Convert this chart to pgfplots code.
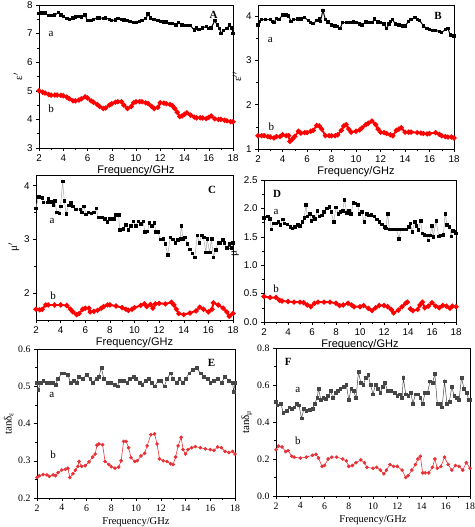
\documentclass[border=0pt]{standalone}
\usepackage{fontspec}
\setmainfont{Liberation Serif}
\newfontfamily\arial{Liberation Sans}
\usepackage{pgfplots}
\pgfplotsset{compat=1.18}
\definecolor{dgray}{RGB}{70,70,70}
\definecolor{lgray}{RGB}{170,170,170}
\definecolor{ered}{RGB}{230,50,55}
\pgfplotsset{
  base/.style={scale only axis, anchor=south west, xmin=2, xmax=18,
    xtick={2,4,...,18}, minor x tick num=1, minor y tick num=1,
    tick align=outside, tick pos=left, major tick length=3pt, minor tick length=1.6pt,
    every tick/.style={black, line width=0.5pt},
    axis line style={line width=0.6pt},
    xlabel={Frequency/GHz},
    ylabel style={font=\fontsize{11}{12}\selectfont, yshift=-2pt},
    /pgf/number format/assume math mode=true},
  sans/.style={base, tick label style={font=\arial\fontsize{9.8}{10}\selectfont},
    xlabel style={font=\arial\fontsize{11}{12}\selectfont, yshift=3pt}},
  serif/.style={base, tick label style={font=\fontsize{9.8}{10}\selectfont},
    xlabel style={font=\fontsize{10.5}{12}\selectfont}},
  blk/.style={black, mark=square*, mark size=1.2pt, line width=1pt},
  rd/.style={red, mark=*, mark size=1.5pt, line width=1.9pt},
  blkg/.style={lgray, line width=0.5pt, mark=square*, mark size=1.3pt, mark options={black}},
  gsq/.style={dgray, line width=0.5pt, mark=square*, mark size=1.4pt},
  rci/.style={ered, line width=0.6pt, mark=*, mark size=1.5pt},
}
\newcommand{\lab}[1]{\fontsize{11}{12}\selectfont #1}
\newcommand{\pl}[1]{\fontsize{11}{12}\selectfont\bfseries #1}
\begin{document}
\begin{tikzpicture}
\useasboundingbox (0,0) rectangle (474pt,527pt);
% A
\begin{axis}[sans, at={(39pt,379pt)}, width=194pt, height=143pt,
  ymin=3, ymax=8, ytick={3,4,...,8}, ylabel={ε$'$}]
\addplot[blk] coordinates {(2.0,7.70)(2.2,7.72)(2.5,7.72)(2.8,7.63)(3.0,7.63)(3.3,7.65)(3.6,7.73)(3.8,7.65)(4.0,7.6)(4.3,7.52)(4.5,7.5)(4.8,7.55)(5.0,7.58)(5.3,7.6)(5.5,7.58)(5.8,7.65)(6.0,7.45)(6.3,7.45)(6.5,7.5)(6.8,7.55)(7.0,7.55)(7.3,7.53)(7.5,7.55)(7.8,7.5)(8.0,7.45)(8.3,7.48)(8.5,7.52)(8.8,7.5)(9.0,7.48)(9.3,7.45)(9.5,7.42)(9.8,7.38)(10.0,7.38)(10.3,7.42)(10.5,7.45)(10.8,7.52)(11.0,7.68)(11.2,7.55)(11.5,7.5)(11.8,7.45)(12.0,7.42)(12.3,7.4)(12.5,7.4)(12.8,7.35)(13.0,7.35)(13.3,7.3)(13.5,7.38)(13.8,7.3)(14.0,7.28)(14.3,7.28)(14.5,7.28)(14.8,7.12)(15.0,7.2)(15.2,7.15)(15.5,7.2)(15.8,7.25)(16.0,7.18)(16.2,7.2)(16.5,7.45)(16.7,7.3)(16.9,7.18)(17.0,7.0)(17.2,7.1)(17.5,7.18)(17.7,7.3)(17.9,7.2)(18.0,7.0)};
\addplot[rd] coordinates {(2.0,5.0)(2.3,4.95)(2.5,4.92)(2.8,4.87)(3.0,4.85)(3.3,4.85)(3.5,4.85)(3.8,4.84)(4.0,4.83)(4.3,4.78)(4.5,4.72)(4.8,4.65)(5.0,4.65)(5.3,4.68)(5.5,4.72)(5.8,4.79)(6.0,4.75)(6.3,4.65)(6.5,4.6)(6.8,4.52)(7.0,4.45)(7.3,4.38)(7.5,4.4)(7.8,4.5)(8.0,4.55)(8.3,4.6)(8.5,4.62)(8.8,4.62)(9.0,4.5)(9.3,4.38)(9.6,4.45)(9.8,4.58)(10.0,4.62)(10.3,4.62)(10.5,4.62)(10.8,4.58)(11.0,4.55)(11.3,4.45)(11.5,4.38)(11.8,4.42)(12.0,4.58)(12.3,4.57)(12.5,4.55)(12.8,4.52)(13.0,4.48)(13.2,4.38)(13.4,4.25)(13.6,4.1)(13.8,4.12)(14.0,4.18)(14.2,4.23)(14.5,4.15)(14.8,4.08)(15.0,4.05)(15.3,4.06)(15.5,4.05)(15.8,4.03)(16.0,4.07)(16.2,4.12)(16.5,4.02)(16.8,4.0)(17.0,4.0)(17.3,3.97)(17.5,3.95)(17.8,3.92)(18.0,3.92)};
\node at (axis cs:3.0,7.0) {\lab{a}};
\node at (axis cs:3.0,4.38) {\lab{b}};
\node at (axis cs:16.4,7.65) {\pl{A}};
\end{axis}
% B
\begin{axis}[sans, at={(258pt,378pt)}, width=196pt, height=144pt,
  ymin=1, ymax=4.25, ytick={1,2,3,4}, ylabel={ε$''$}]
\addplot[blk] coordinates {(2.0,3.8)(2.1,3.88)(2.3,3.92)(2.6,3.92)(3.0,3.92)(3.2,3.88)(3.3,3.85)(3.5,3.95)(3.7,3.92)(4.0,4.02)(4.3,4.02)(4.5,4.0)(4.7,3.88)(4.9,3.92)(5.2,3.93)(5.5,3.93)(5.8,3.97)(6.1,3.9)(6.3,3.85)(6.5,3.83)(6.8,3.9)(7.0,3.95)(7.1,3.88)(7.3,4.13)(7.5,3.92)(7.7,3.87)(8.0,3.8)(8.3,3.78)(8.5,3.77)(8.7,3.72)(8.9,3.85)(9.2,3.85)(9.5,3.85)(9.8,3.87)(10.0,3.85)(10.3,3.82)(10.5,3.8)(10.8,3.87)(11.1,3.85)(11.3,3.85)(11.5,3.93)(11.8,3.87)(12.0,3.85)(12.3,3.82)(12.5,3.72)(12.7,3.82)(12.8,3.88)(13.0,3.92)(13.2,3.82)(13.5,3.8)(13.8,3.78)(14.0,3.78)(14.3,3.88)(14.5,3.92)(14.8,3.97)(15.0,3.92)(15.2,3.9)(15.5,3.78)(15.8,3.72)(16.0,3.7)(16.3,3.68)(16.5,3.68)(16.8,3.65)(17.0,3.63)(17.3,3.7)(17.5,3.72)(17.7,3.57)(18.0,3.55)};
\addplot[rd] coordinates {(2.0,1.3)(2.3,1.3)(2.5,1.3)(2.8,1.28)(3.0,1.27)(3.3,1.25)(3.5,1.28)(3.8,1.28)(4.0,1.32)(4.3,1.3)(4.5,1.3)(4.6,1.17)(4.8,1.22)(5.0,1.28)(5.3,1.4)(5.5,1.36)(5.8,1.37)(6.0,1.37)(6.3,1.4)(6.5,1.42)(6.8,1.53)(7.0,1.52)(7.2,1.45)(7.5,1.3)(7.8,1.3)(8.0,1.3)(8.3,1.3)(8.5,1.32)(8.8,1.42)(9.0,1.52)(9.2,1.55)(9.4,1.45)(9.6,1.38)(10.0,1.4)(10.3,1.43)(10.5,1.48)(10.8,1.55)(11.0,1.58)(11.3,1.63)(11.6,1.55)(11.8,1.45)(12.0,1.38)(12.3,1.37)(12.5,1.35)(12.8,1.32)(13.0,1.3)(13.3,1.42)(13.5,1.45)(13.7,1.48)(14.0,1.38)(14.3,1.38)(14.5,1.38)(15.0,1.37)(15.3,1.36)(15.5,1.35)(15.8,1.34)(16.0,1.35)(16.5,1.37)(16.8,1.33)(17.0,1.3)(17.3,1.28)(17.5,1.27)(17.8,1.27)(18.0,1.25)};
\node at (axis cs:3.0,3.47) {\lab{a}};
\node at (axis cs:3.1,1.5) {\lab{b}};
\node at (axis cs:16.7,4.0) {\pl{B}};
\end{axis}
% C
\begin{axis}[sans, at={(36pt,207pt)}, width=197pt, height=145pt,
  ymin=1.5, ymax=4.2, ytick={2,3,4}, ylabel={μ$'$}]
\addplot[blkg] coordinates {(2.0,3.58)(2.2,3.8)(2.5,3.78)(2.6,3.69)(2.9,3.69)(3.0,3.76)(3.2,3.7)(3.4,3.65)(3.5,3.72)(3.7,3.51)(3.9,3.49)(4.0,3.62)(4.16,4.08)(4.3,3.72)(4.45,3.48)(4.65,3.64)(4.8,3.68)(5.0,3.62)(5.25,3.56)(5.6,3.56)(5.7,3.51)(5.9,3.62)(6.05,3.47)(6.25,3.51)(6.5,3.49)(6.7,3.51)(6.9,3.58)(7.05,3.41)(7.35,3.41)(7.6,3.39)(7.8,3.33)(8.0,3.38)(8.3,3.38)(8.5,3.46)(8.7,3.46)(8.8,3.18)(9.1,3.2)(9.3,3.27)(9.5,3.18)(9.7,3.26)(9.9,3.34)(10.1,3.26)(10.3,3.34)(10.5,3.29)(10.7,3.34)(10.85,3.14)(11.05,3.15)(11.2,3.31)(11.4,3.25)(11.6,3.31)(11.75,3.14)(11.9,3.14)(12.1,3.0)(12.35,3.01)(12.5,2.92)(12.7,2.71)(12.9,3.04)(13.1,3.0)(13.3,2.94)(13.5,2.99)(13.7,3.01)(13.8,3.25)(13.95,3.01)(14.1,3.04)(14.3,2.92)(14.5,2.82)(14.7,2.74)(14.9,2.67)(15.1,3.08)(15.25,2.94)(15.45,3.08)(15.6,3.04)(15.8,2.76)(15.9,3.01)(16.1,2.76)(16.25,3.01)(16.4,2.67)(16.6,2.81)(16.8,2.94)(16.95,2.94)(17.15,2.99)(17.3,2.94)(17.5,2.84)(17.7,2.92)(17.9,2.84)(18.0,2.94)};
\addplot[rd] coordinates {(2.0,1.7)(2.3,1.69)(2.5,1.7)(2.8,1.78)(3.0,1.78)(3.5,1.78)(4.0,1.78)(4.5,1.77)(4.8,1.7)(5.0,1.65)(5.3,1.6)(5.5,1.62)(5.8,1.7)(6.0,1.72)(6.3,1.72)};
\addplot[rd] coordinates {(6.4,1.65)(6.7,1.66)(7.0,1.68)(7.3,1.72)(7.5,1.75)(7.8,1.78)(8.0,1.78)(8.5,1.76)(9.0,1.73)(9.3,1.7)(9.5,1.68)(9.8,1.7)(10.0,1.73)(10.5,1.77)(10.8,1.8)(11.0,1.75)(11.3,1.79)(11.5,1.72)(11.7,1.8)(12.0,1.81)(12.5,1.8)(13.0,1.83)(13.2,1.78)(13.4,1.7)(13.6,1.62)(14.0,1.6)(14.5,1.63)(15.0,1.67)(15.3,1.74)(15.6,1.7)(16.0,1.65)(16.3,1.7)(16.4,1.82)(16.8,1.78)(17.2,1.72)(17.5,1.65)(17.7,1.57)(18.0,1.62)};
\node at (axis cs:3.3,3.34) {\lab{a}};
\node at (axis cs:3.4,1.95) {\lab{b}};
\node at (axis cs:16.3,3.92) {\pl{C}};
\end{axis}
% D
\begin{axis}[sans, at={(264pt,205pt)}, width=192pt, height=142pt,
  ymin=0, ymax=2.5, ytick={0,0.5,...,2.5}, ylabel={μ$''$},
  yticklabel style={/pgf/number format/.cd, fixed, fixed zerofill, precision=1}]
\addplot[blkg] coordinates {(2.0,1.84)(2.3,1.86)(2.5,1.82)(2.6,1.63)(2.8,1.74)(3.0,1.74)(3.2,1.76)(3.35,1.71)(3.55,1.81)(3.7,1.74)(3.95,1.72)(4.2,1.68)(4.35,1.65)(4.55,1.68)(4.8,1.71)(5.0,1.69)(5.2,1.76)(5.35,1.84)(5.5,2.06)(5.6,1.86)(5.8,1.91)(5.95,1.78)(6.1,1.86)(6.25,1.82)(6.45,1.96)(6.6,1.86)(6.8,1.88)(7.0,1.94)(7.25,2.0)(7.45,2.03)(7.6,1.94)(7.8,1.76)(8.0,2.02)(8.2,1.91)(8.35,1.94)(8.55,1.96)(8.7,2.15)(8.9,1.92)(9.05,1.96)(9.25,1.91)(9.45,2.1)(9.6,2.09)(9.8,2.06)(9.95,1.91)(10.15,1.94)(10.35,1.76)(10.55,1.91)(10.75,1.88)(10.95,1.89)(11.2,1.86)(11.4,1.81)(11.6,1.76)(11.8,1.72)(12.05,1.68)(12.15,1.65)(12.3,1.91)(12.45,1.63)(12.65,1.63)(12.85,1.63)(13.05,1.63)(13.25,1.47)(13.4,1.63)(13.6,1.63)(13.85,1.63)(14.05,1.68)(14.2,1.74)(14.35,1.59)(14.55,1.76)(14.7,1.69)(14.85,1.62)(15.05,1.78)(15.2,1.56)(15.35,1.54)(15.55,1.53)(15.7,1.44)(15.85,1.53)(16.0,1.69)(16.1,1.5)(16.35,1.78)(16.55,1.51)(16.75,1.53)(16.95,1.54)(17.1,1.91)(17.25,1.71)(17.45,1.68)(17.6,1.51)(17.75,1.61)(17.95,1.59)(18.0,1.56)};
\addplot[rd] coordinates {(2.0,0.45)(2.5,0.43)(3.0,0.43)(3.3,0.38)(3.5,0.37)(4.0,0.36)(4.5,0.35)(5.0,0.35)(5.3,0.34)(5.6,0.3)(5.9,0.27)(6.2,0.33)(6.5,0.35)(7.0,0.35)(7.5,0.35)(8.0,0.33)(8.3,0.29)(8.6,0.3)(9.0,0.33)(9.3,0.3)(9.5,0.27)(10.0,0.27)(10.3,0.29)(10.7,0.24)(11.0,0.2)(11.3,0.25)(11.6,0.29)(12.0,0.29)(12.3,0.27)(12.6,0.22)(12.8,0.16)(13.2,0.21)(13.5,0.27)(13.8,0.33)(13.95,0.35)};
\addplot[rd] coordinates {(14.2,0.23)(14.4,0.2)(14.8,0.22)(15.0,0.3)(15.2,0.35)(15.4,0.25)(15.7,0.28)(16.0,0.34)(16.3,0.28)(16.6,0.25)(16.9,0.29)(17.2,0.28)(17.5,0.24)(17.7,0.28)(18.0,0.27)};
\node at (axis cs:3.1,2.25) {\pl{D}};
\node at (axis cs:3.0,1.94) {\lab{a}};
\node at (axis cs:3.0,0.58) {\lab{b}};
\end{axis}
% E
\begin{axis}[serif, at={(37pt,29pt)}, width=198pt, height=149pt,
  ymin=0.2, ymax=0.6, ytick={0.2,0.3,...,0.6}, ylabel={tanδ\textsubscript{ε}},
  yticklabel style={/pgf/number format/.cd, fixed, fixed zerofill, precision=1}]
\addplot[gsq] coordinates {(2.0,0.51)(2.1,0.49)(2.3,0.51)(2.5,0.515)(2.8,0.51)(3.0,0.51)(3.3,0.51)(3.5,0.505)(3.7,0.52)(4.0,0.535)(4.2,0.535)(4.5,0.53)(4.7,0.51)(5.0,0.515)(5.2,0.51)(5.4,0.525)(5.7,0.52)(6.0,0.53)(6.3,0.52)(6.5,0.51)(6.8,0.52)(7.0,0.525)(7.2,0.55)(7.4,0.52)(7.7,0.51)(8.0,0.51)(8.3,0.505)(8.5,0.5)(8.7,0.515)(9.0,0.515)(9.3,0.51)(9.5,0.52)(9.8,0.525)(10.0,0.52)(10.3,0.51)(10.5,0.505)(10.8,0.515)(11.0,0.52)(11.3,0.51)(11.5,0.5)(11.8,0.515)(12.0,0.515)(12.3,0.5)(12.5,0.52)(12.8,0.535)(13.0,0.52)(13.3,0.51)(13.5,0.52)(13.8,0.51)(14.0,0.52)(14.3,0.535)(14.6,0.545)(14.9,0.55)(15.2,0.535)(15.5,0.525)(15.8,0.52)(16.0,0.51)(16.3,0.515)(16.6,0.52)(16.9,0.51)(17.2,0.525)(17.5,0.515)(17.8,0.51)(17.9,0.485)(18.0,0.51)};
\addplot[rci] coordinates {(2.0,0.255)(2.2,0.26)(2.5,0.263)(2.8,0.262)(3.0,0.258)(3.3,0.262)(3.5,0.26)(3.7,0.268)(4.0,0.275)(4.3,0.277)(4.5,0.28)(4.65,0.255)(4.9,0.265)(5.1,0.275)(5.3,0.285)(5.4,0.298)(5.6,0.285)(5.9,0.287)(6.2,0.297)(6.5,0.31)(6.7,0.318)(6.85,0.342)(7.0,0.345)(7.3,0.343)(7.5,0.298)(7.8,0.29)(8.0,0.284)(8.3,0.28)(8.6,0.283)(8.8,0.3)(9.0,0.352)(9.2,0.352)(9.4,0.335)(9.6,0.308)(9.9,0.298)(10.1,0.3)(10.4,0.313)(10.7,0.32)(10.9,0.34)(11.2,0.37)(11.5,0.372)(11.7,0.345)(11.9,0.305)(12.2,0.3)(12.5,0.298)(12.8,0.292)(13.0,0.29)(13.2,0.31)(13.4,0.34)(13.65,0.363)(13.8,0.33)(14.0,0.318)(14.2,0.33)(14.5,0.335)(14.8,0.338)(15.2,0.335)(15.6,0.332)(16.0,0.33)(16.3,0.328)(16.6,0.337)(16.9,0.335)(17.2,0.325)(17.5,0.322)(17.8,0.325)(18.0,0.318)};
\node at (axis cs:16.1,0.563) {\pl{E}};
\node at (axis cs:3.2,0.476) {\lab{a}};
\node at (axis cs:3.3,0.317) {\lab{b}};
\end{axis}
% F
\begin{axis}[serif, at={(276pt,31pt)}, width=194pt, height=148pt,
  ymin=0, ymax=0.8, ytick={0,0.2,...,0.8}, ylabel={tanδ\textsubscript{μ}},
  yticklabel style={/pgf/number format/.cd, fixed, fixed zerofill, precision=1}]
\addplot[gsq] coordinates {(2.0,0.51)(2.1,0.49)(2.4,0.5)(2.6,0.45)(2.9,0.46)(3.1,0.48)(3.3,0.47)(3.5,0.48)(3.7,0.5)(3.9,0.49)(4.1,0.42)(4.3,0.47)(4.5,0.46)(4.8,0.465)(5.0,0.47)(5.2,0.5)(5.4,0.53)(5.5,0.58)(5.7,0.52)(5.9,0.53)(6.1,0.525)(6.3,0.54)(6.5,0.57)(6.7,0.53)(6.9,0.56)(7.1,0.57)(7.3,0.58)(7.6,0.59)(7.8,0.6)(8.0,0.52)(8.2,0.58)(8.4,0.57)(8.6,0.53)(8.8,0.67)(9.0,0.61)(9.2,0.6)(9.4,0.64)(9.6,0.655)(9.8,0.6)(10.0,0.55)(10.2,0.6)(10.4,0.58)(10.6,0.56)(10.8,0.59)(11.0,0.61)(11.2,0.57)(11.5,0.57)(11.8,0.56)(12.0,0.54)(12.2,0.55)(12.4,0.53)(12.5,0.64)(12.7,0.55)(12.9,0.54)(13.1,0.56)(13.3,0.5)(13.5,0.55)(13.7,0.55)(13.9,0.53)(14.1,0.5)(14.3,0.56)(14.5,0.56)(14.7,0.62)(14.9,0.61)(15.1,0.66)(15.3,0.5)(15.5,0.5)(15.7,0.48)(15.9,0.62)(16.1,0.5)(16.3,0.51)(16.5,0.59)(16.7,0.54)(16.9,0.53)(17.1,0.52)(17.3,0.64)(17.5,0.58)(17.7,0.56)(17.9,0.52)(18.0,0.52)};
\addplot[rci] coordinates {(2.0,0.25)(2.2,0.27)(2.5,0.265)(2.8,0.24)(3.0,0.245)(3.3,0.215)(3.5,0.21)(4.0,0.205)(4.5,0.21)(5.0,0.22)(5.3,0.225)(5.5,0.205)(5.8,0.16)(6.0,0.165)(6.3,0.2)(6.6,0.21)(7.0,0.21)(7.5,0.2)(7.8,0.19)(8.0,0.16)(8.3,0.165)(8.6,0.18)(9.0,0.195)(9.3,0.18)(9.5,0.155)(10.0,0.15)(10.3,0.155)(10.6,0.14)(10.9,0.12)(11.1,0.14)(11.4,0.17)(11.7,0.16)(12.0,0.16)(12.4,0.14)(12.7,0.1)(12.9,0.11)(13.2,0.14)(13.5,0.17)(13.7,0.2)(13.9,0.215)(14.1,0.125)(14.3,0.125)(14.6,0.125)(14.9,0.155)(15.1,0.2)(15.3,0.15)(15.6,0.16)(15.9,0.21)(16.2,0.17)(16.5,0.14)(16.8,0.165)(17.1,0.16)(17.4,0.14)(17.7,0.18)(18.0,0.15)};
\node at (axis cs:3.0,0.726) {\pl{F}};
\node at (axis cs:3.8,0.573) {\lab{a}};
\node at (axis cs:3.8,0.30) {\lab{b}};
\end{axis}
\end{tikzpicture}
\end{document}
